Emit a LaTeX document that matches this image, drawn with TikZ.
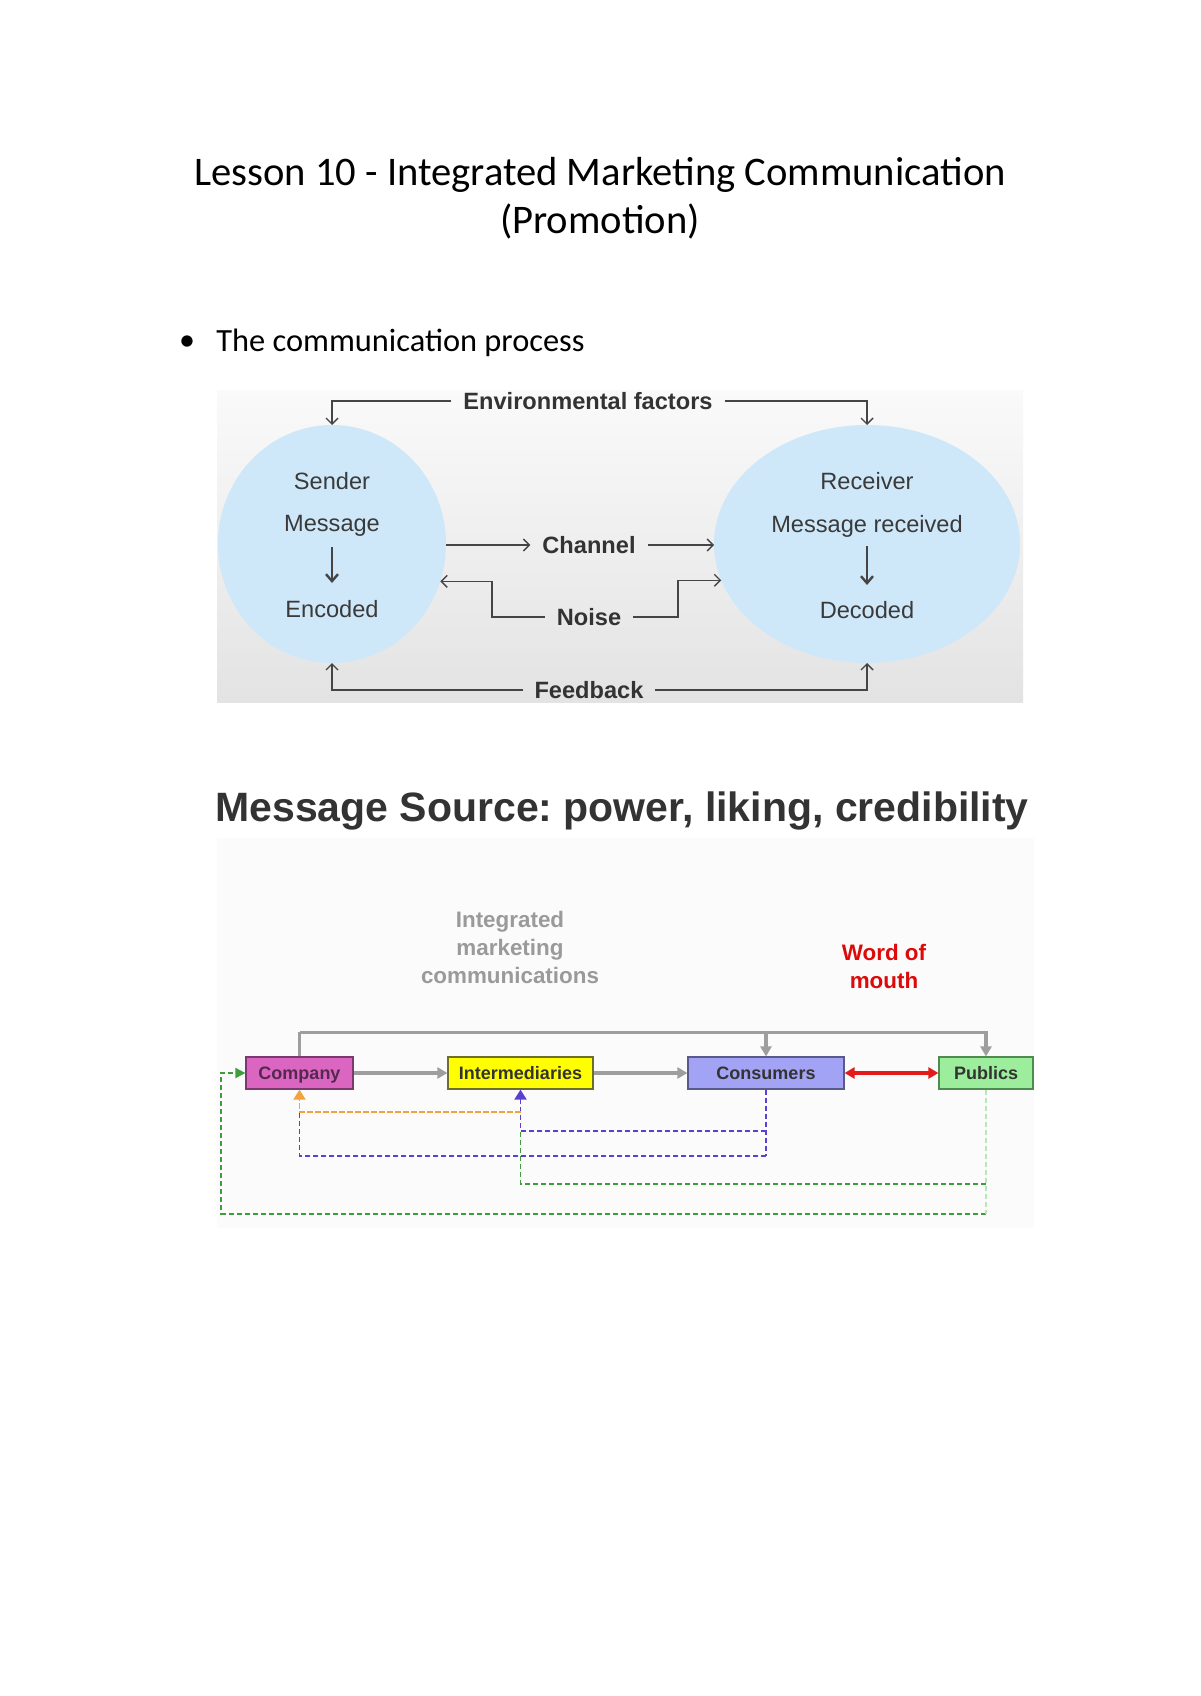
\documentclass[tikz,border=0pt]{standalone}
\usepackage{fontspec}
\setmainfont{Carlito}
\newfontfamily\arial{Liberation Sans}
\usetikzlibrary{arrows.meta,shapes.geometric,calc}
\frenchspacing
\definecolor{ellblue}{HTML}{CFE8F9}
\definecolor{txtc}{HTML}{3A3A3A}
\definecolor{linec}{HTML}{454545}
\definecolor{headc}{HTML}{333333}
\definecolor{compfill}{HTML}{DB66C2}
\definecolor{compdraw}{HTML}{7A3A70}
\definecolor{interfill}{HTML}{FFFF00}
\definecolor{interdraw}{HTML}{6E6E2A}
\definecolor{consfill}{HTML}{A3A3F5}
\definecolor{consdraw}{HTML}{5A5A8A}
\definecolor{pubfill}{HTML}{9CEE9C}
\definecolor{pubdraw}{HTML}{4F8A4F}
\definecolor{grayln}{HTML}{9E9E9E}
\definecolor{redln}{HTML}{E31B1B}
\definecolor{orangeln}{HTML}{F2A33A}
\definecolor{purpleln}{HTML}{5B3FD0}
\definecolor{greenln}{HTML}{3E9E3E}
\definecolor{lgreenln}{HTML}{B8E6B8}
\definecolor{imcgray}{HTML}{9A9A9A}
\definecolor{womred}{HTML}{DD0A0A}
\definecolor{boxtxt}{HTML}{333333}
\begin{document}
\begin{tikzpicture}[x=0.5pt,y=-0.5pt,
  lbl/.style={font=\arial\fontsize{11.8}{14}\selectfont, text=txtc, text height=8.5pt, text depth=0pt, inner sep=0pt},
  blbl/.style={font=\arial\bfseries\fontsize{11.8}{14}\selectfont, text=headc, text height=8.5pt, text depth=0pt, inner ysep=0pt, inner xsep=5.8pt},
  ellnode/.style={ellipse, fill=ellblue, inner sep=0pt, outer sep=0pt},
  conn/.style={draw=linec, line width=0.7pt, -{Straight Barb[length=3pt,width=6pt]}},
  inarrow/.style={draw=linec, line width=1.2pt, -{Straight Barb[length=3.5pt,width=6pt]}},
  box/.style={draw, line width=0.6pt, minimum height=16pt, inner sep=0pt, text height=6.5pt, text depth=0pt, font=\arial\bfseries\fontsize{9}{10}\selectfont, text=boxtxt},
  gline/.style={draw=grayln, line width=1.6pt},
  gtip/.style={-{Triangle[length=5pt,width=5.5pt]}},
  dsh/.style={line width=0.95pt, dash pattern=on 2.6pt off 1.4pt},
  multi/.style={align=center, font=\arial\bfseries\fontsize{11.2}{14}\selectfont, inner sep=0pt}
]
\fill[white] (0,0) rectangle (1200,1696);
\useasboundingbox (0,0) rectangle (1200,1696);

% ---------- title ----------
\node[anchor=base, font=\fontsize{20.3}{24}\selectfont] (title1) at (600,186) {Lesson 10 - Integrated Marketing Communication};
\node[anchor=base, font=\fontsize{20.3}{24}\selectfont] (title2) at (600,234) {(Promotion)};
\node[anchor=base, font=\fontsize{16}{19}\selectfont] (bul) at (187,350) {•};
\node[anchor=base west, font=\fontsize{16.2}{19}\selectfont, inner sep=0pt] (bultext) at (216,351) {The communication process};

% ---------- communication process panel ----------
\shade[top color=black!2, middle color=black!3, bottom color=black!11] (217,390) rectangle (1023,702);

\node[ellnode, minimum width=114pt, minimum height=119pt] (L) at (332,544) {};
\node[ellnode, minimum width=153pt, minimum height=119pt] (R) at (867,544) {};

\node[lbl] (lsend) at (332,481) {Sender};
\node[lbl] (lmsg) at (332,523) {Message};
\node[lbl] (lenc) at (332,609) {Encoded};
\node[lbl] (rrec) at (867,481) {Receiver};
\node[lbl] (rmsg) at (867,524) {Message received};
\node[lbl] (rdec) at (867,610) {Decoded};

\draw[inarrow, shorten <=12pt, shorten >=13pt] (lmsg.center) -- (lenc.center);
\draw[inarrow, shorten <=11pt, shorten >=12.5pt] (rmsg.center) -- (rdec.center);

\node[blbl] (env) at (588,401) {Environmental factors};
\node[blbl] (chan) at (589,545) {Channel};
\node[blbl] (noise) at (589,617) {Noise};
\node[blbl] (fb) at (589,690) {Feedback};

\draw[conn] (env.west) -| (L.north);
\draw[conn] (env.east) -| (R.north);
\draw[conn] (L.east |- chan.west) -- (chan.west);
\draw[conn] (chan.east) -- (R.west |- chan.east);
\draw[conn] (noise.west) -- (492,617) |- (L.-19);
\draw[conn] (noise.east) -- (678,617) |- (R.-166);
\draw[conn] (fb.west) -| (L.south);
\draw[conn] (fb.east) -| (R.south);

% ---------- message source ----------
\node[anchor=base, font=\arial\bfseries\fontsize{20.5}{24}\selectfont, text=headc, inner sep=0pt] (msrc) at (622,821) {Message Source: power, liking, credibility};

\fill[black!1.5] (217,838) rectangle (1034,1228);

\node[multi, text=imcgray] (imc) at (510,947) {Integrated\\marketing\\communications};
\node[multi, text=womred] (wom) at (884,966) {Word of\\mouth};

\node[box, fill=compfill, draw=compdraw, minimum width=53.5pt, text=compdraw!70!black] (company) at (299.5,1073) {Company};
\node[box, fill=interfill, draw=interdraw, minimum width=72.5pt] (inter) at (520.5,1073) {Intermediaries};
\node[box, fill=consfill, draw=consdraw, minimum width=78pt] (cons) at (766,1073) {Consumers};
\node[box, fill=pubfill, draw=pubdraw, minimum width=47pt] (pub) at (986,1073) {Publics};

% top gray line
\draw[gline] (company.north) -- ++(0,-24) coordinate (topl);
\draw[gline, gtip] (topl) -| (pub.north);
\draw[gline, gtip] (cons.north |- topl) -- (cons.north);
\draw[gline, gtip] (company.east) -- (inter.west);
\draw[gline, gtip] (inter.east) -- (cons.west);
\draw[draw=redln, line width=1.6pt, {Triangle[length=5pt,width=5.5pt]}-{Triangle[length=5pt,width=5.5pt]}] (cons.east) -- (pub.west);

% dashed feedback lines
\path (inter.south) ++(0,22) coordinate (oi);
\path (cons.south) ++(0,41) coordinate (p1);
\path (cons.south) ++(0,66) coordinate (p2);
\path (pub.south) ++(0,94) coordinate (g1);
\path (pub.south) ++(0,124) coordinate (g2);

\draw[dsh, draw=purpleln] (p2) -| (company.south |- oi);
\draw[dsh, draw=purpleln] (cons.south) -- (p2);
\draw[dsh, draw=greenln] (g1) -| (inter.south |- p1);
\draw[dsh, draw=purpleln, -{Triangle[length=5pt,width=6pt]}] (p1) -| (inter.south);
\draw[dsh, draw=orangeln, -{Triangle[length=5pt,width=6pt]}] (oi) -| (company.south);
\draw[dsh, draw=orangeln] (inter.south |- oi) -- (oi);
\draw[dsh, draw=greenln, -{Triangle[length=5pt,width=5pt]}] (g2) -| ([xshift=-12pt]company.west) -- (company.west);
\draw[dsh, draw=lgreenln] (pub.south) -- (g2);
\end{tikzpicture}
\end{document}
